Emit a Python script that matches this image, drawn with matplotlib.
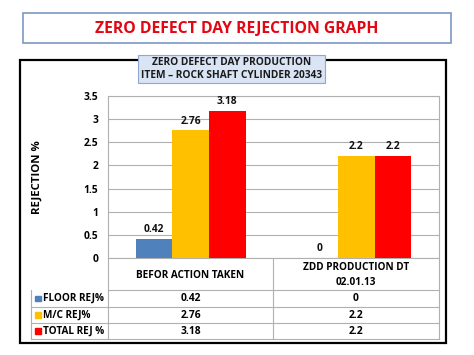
import matplotlib.pyplot as plt
import numpy as np
from matplotlib.patches import Rectangle

# Data
categories = ['BEFOR ACTION TAKEN', 'ZDD PRODUCTION DT\n02.01.13']
series_names = ['FLOOR REJ%', 'M/C REJ%', 'TOTAL REJ %']
floor_rej = [0.42, 0]
mc_rej = [2.76, 2.2]
total_rej = [3.18, 2.2]
colors = ['#4f81bd', '#ffc000', '#ff0000']

title = 'ZERO DEFECT DAY REJECTION GRAPH'
subtitle = 'ZERO DEFECT DAY PRODUCTION\nITEM \u2013 ROCK SHAFT CYLINDER 20343'

plt.rcParams['font.family'] = ['Open Sans', 'DejaVu Sans']
plt.rcParams['font.weight'] = 'bold'

W, H = 474, 355
fig = plt.figure(figsize=(W / 100, H / 100), dpi=100)

# overlay in pixel coordinates for boxes and the data table
ov = fig.add_axes([0, 0, 1, 1])
ov.set_xlim(0, W)
ov.set_ylim(H, 0)
ov.axis('off')


def px_rect(x0, y0, x1, y1):
    return [x0 / W, 1 - y1 / H, (x1 - x0) / W, (y1 - y0) / H]


# bar chart
ax = fig.add_axes(px_rect(108, 96, 439, 258))
series = [floor_rej, mc_rej, total_rej]
x = np.arange(len(categories))
bw = 0.221
for i, (vals, c) in enumerate(zip(series, colors)):
    pos = x + (i - 1) * bw
    ax.bar(pos, vals, width=bw, color=c, zorder=3)
    for p, v in zip(pos, vals):
        ax.text(p, v + 0.08, f'{v:g}', ha='center', va='bottom',
                fontsize=7.4, fontweight='bold', color='#111111')
ax.set_xlim(-0.5, 1.5)
ax.set_ylim(0, 3.5)
ax.set_yticks(np.arange(0, 3.51, 0.5))
ax.set_yticklabels([f'{t:g}' for t in np.arange(0, 3.51, 0.5)],
                   fontsize=7.4, fontweight='bold')
ax.set_xticks([])
ax.grid(axis='y', color='#b0b0b0', linewidth=0.8, zorder=0)
ax.tick_params(axis='y', length=0, pad=7)
for s in ax.spines.values():
    s.set_color('#b0b0b0')
    s.set_linewidth(0.8)
ax.set_ylabel('REJECTION %', fontsize=8.2, fontweight='bold')
ax.yaxis.set_label_coords(-0.198, 0.5)

# outer black frame
ov.add_patch(Rectangle((20, 60), 426, 283, fill=False, ec='black', lw=1.6))

# title box
ov.add_patch(Rectangle((23, 13), 428, 30, fill=True, fc='white',
                       ec='#7d98c4', lw=1.2))
ov.text(237, 29, title, ha='center', va='center', color='#e30613',
        fontsize=11.3, fontweight='bold')

# subtitle box
ov.add_patch(Rectangle((138, 55), 187, 28, fc='#d9e4f5', ec='#8fa8d0',
                       lw=0.8))
ov.text(231.5, 69, subtitle, ha='center', va='center', fontsize=7.3,
        fontweight='bold', color='#1a1a1a', linespacing=1.25)

# data table
grid_c = '#b0b0b0'
tx0, tlab, tmid, tx1 = 31, 108, 273, 439
ty = [258, 290, 307, 323, 339]
ov.plot([tlab, tx1], [ty[1], ty[1]], color=grid_c, lw=0.8)
for yy in ty[2:]:
    ov.plot([tx0, tx1], [yy, yy], color=grid_c, lw=0.8)
ov.plot([tx0, tx0], [ty[1], ty[-1]], color=grid_c, lw=0.8)
ov.plot([tlab, tlab], [ty[0], ty[-1]], color=grid_c, lw=0.8)
ov.plot([tmid, tmid], [ty[0], ty[-1]], color=grid_c, lw=0.8)
ov.plot([tx1, tx1], [ty[0], ty[-1]], color=grid_c, lw=0.8)

col_centers = [(tlab + tmid) / 2, (tmid + tx1) / 2]
for cx, cat in zip(col_centers, categories):
    ov.text(cx, (ty[0] + ty[1]) / 2 + 1, cat, ha='center', va='center',
            fontsize=7.2, fontweight='bold', linespacing=1.45)
for r, (name, vals, c) in enumerate(zip(series_names, series, colors)):
    yc = (ty[r + 1] + ty[r + 2]) / 2
    ov.add_patch(Rectangle((35, yc - 2.8), 5.6, 5.6, color=c))
    ov.text(43, yc, name, ha='left', va='center', fontsize=7.2,
            fontweight='bold')
    for cx, v in zip(col_centers, vals):
        ov.text(cx, yc, f'{v:g}', ha='center', va='center', fontsize=7.4,
                fontweight='bold')

fig.savefig('out.png', dpi=100)
